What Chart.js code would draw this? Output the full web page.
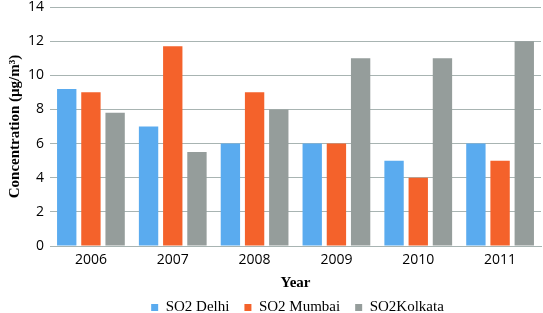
<!DOCTYPE html>
<html>
<head>
<meta charset="utf-8">
<script src="https://cdn.jsdelivr.net/npm/chart.js@4"></script>
<style>
  body { margin: 0; background: #fff; }
  #wrap { width: 543px; height: 313px; }
</style>
</head>
<body>
<div id="wrap"><canvas id="so2Chart" width="543" height="313"></canvas></div>
<script>
var years = ['2006', '2007', '2008', '2009', '2010', '2011'];
var delhi = [9.2, 7, 6, 6, 5, 6];
var mumbai = [9, 11.7, 9, 6, 4, 5];
var kolkata = [7.8, 5.5, 8, 11, 11, 12];
var yTicks = [0, 2, 4, 6, 8, 10, 12, 14];

// nudge the legend: the original sits a little right of centre
var legendShift = {
    id: 'legendShift',
    afterLayout: function (chart) {
        var lg = chart.legend;
        if (!lg) return;
        var dx = 24;
        var top = 285;
        lg.left += dx;
        lg.right += dx;
        lg.bottom = top + lg.height;
        lg.top = top;
    }
};

document.addEventListener('DOMContentLoaded', function () {
    var ctx = document.getElementById('so2Chart').getContext('2d');
    var tickFont = { family: 'Open Sans', size: 14, lineHeight: 1 };
    var serifBold = { family: 'Liberation Serif', size: 15, weight: 'bold' };

    new Chart(ctx, {
        type: 'bar',
        data: {
            labels: years,
            datasets: [{
                label: 'SO2 Delhi',
                data: delhi,
                backgroundColor: '#5aabef'
            }, {
                label: 'SO2 Mumbai',
                data: mumbai,
                backgroundColor: '#f4622b'
            }, {
                label: 'SO2Kolkata',
                data: kolkata,
                backgroundColor: '#959d9b'
            }]
        },
        plugins: [legendShift],
        options: {
            responsive: false,
            animation: false,
            devicePixelRatio: 1,
            layout: { padding: { top: 0, right: 2, left: 6, bottom: -21 } },
            datasets: {
                bar: { categoryPercentage: 0.887, barPercentage: 0.8 }
            },
            plugins: {
                legend: {
                    position: 'bottom',
                    labels: {
                        boxWidth: 7,
                        boxHeight: 7,
                        padding: 15,
                        color: '#000',
                        font: { family: 'Liberation Serif', size: 15 }
                    }
                },
                tooltip: { enabled: false }
            },
            scales: {
                x: {
                    grid: { display: false, drawTicks: false },
                    border: { color: '#a8b4b2', width: 1 },
                    ticks: { color: '#000', font: tickFont, padding: 7 },
                    title: {
                        display: true,
                        text: 'Year',
                        color: '#000',
                        font: serifBold,
                        padding: { top: 0, bottom: 2 }
                    }
                },
                y: {
                    min: 0,
                    max: 14,
                    afterBuildTicks: function (axis) {
                        axis.ticks = yTicks.map(function (v) { return { value: v }; });
                    },
                    grid: {
                        color: '#a8b4b2',
                        lineWidth: 1,
                        drawTicks: true,
                        tickLength: 6,
                        tickColor: 'rgba(0,0,0,0)'
                    },
                    border: { display: false },
                    ticks: { color: '#000', font: tickFont, padding: 0 },
                    title: {
                        display: true,
                        text: 'Concentration (µg/m³)',
                        color: '#000',
                        font: serifBold,
                        padding: { top: 0, bottom: 4 }
                    }
                }
            }
        }
    });
});
</script>
</body>
</html>
